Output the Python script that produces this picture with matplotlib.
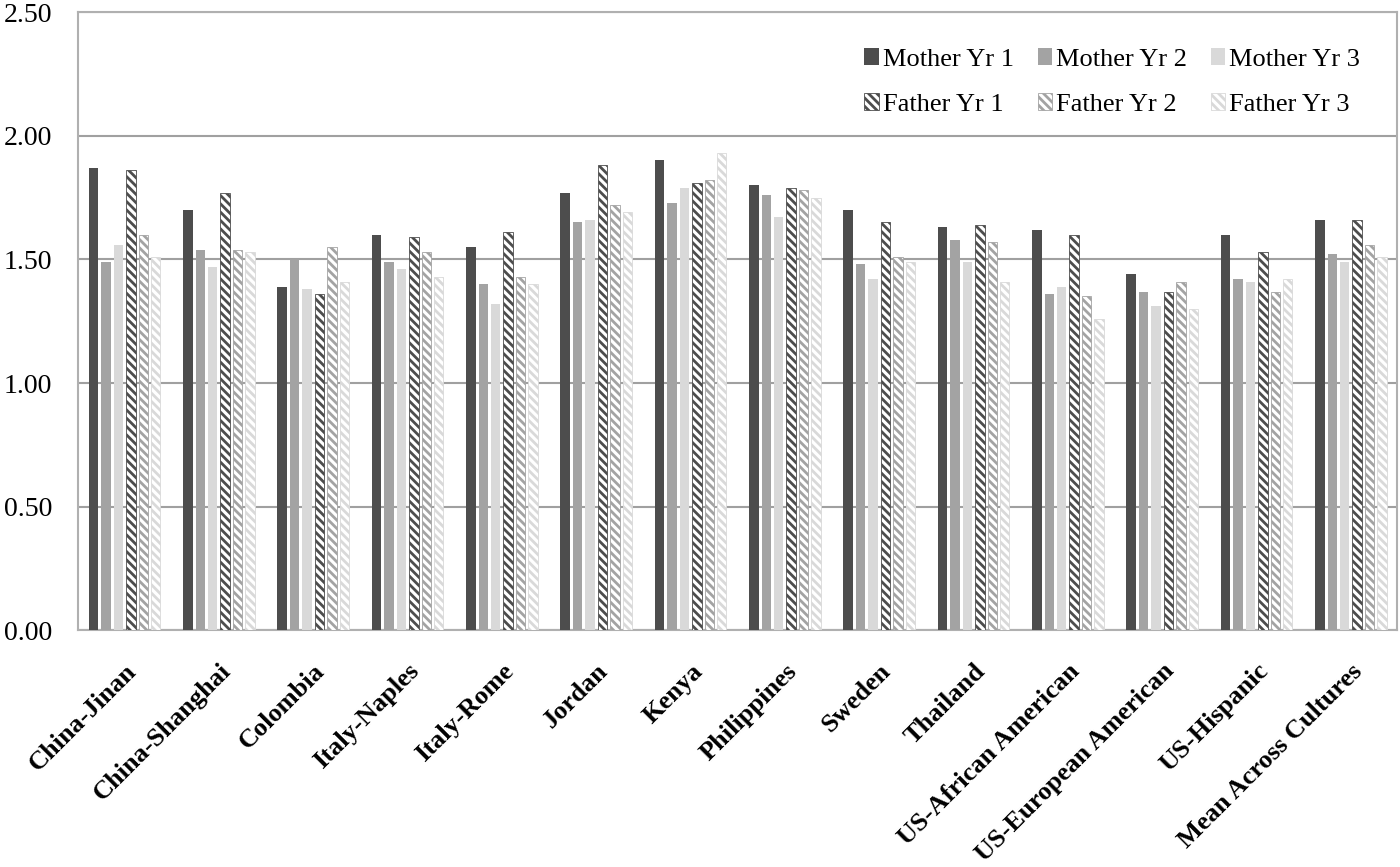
import numpy as np
import matplotlib.pyplot as plt

plt.rcParams['font.family'] = ['Liberation Serif', 'DejaVu Serif']
plt.rcParams['hatch.linewidth'] = 2.0

# Data
cultures = ['China-Jinan', 'China-Shanghai', 'Colombia', 'Italy-Naples', 'Italy-Rome',
            'Jordan', 'Kenya', 'Philippines', 'Sweden', 'Thailand',
            'US-African American', 'US-European American', 'US-Hispanic',
            'Mean Across Cultures']

mother_yr1 = [1.87, 1.70, 1.39, 1.60, 1.55, 1.77, 1.90, 1.80, 1.70, 1.63, 1.62, 1.44, 1.60, 1.66]
mother_yr2 = [1.49, 1.54, 1.50, 1.49, 1.40, 1.65, 1.73, 1.76, 1.48, 1.58, 1.36, 1.37, 1.42, 1.52]
mother_yr3 = [1.56, 1.47, 1.38, 1.46, 1.32, 1.66, 1.79, 1.67, 1.42, 1.49, 1.39, 1.31, 1.41, 1.49]
father_yr1 = [1.86, 1.77, 1.36, 1.59, 1.61, 1.88, 1.81, 1.79, 1.65, 1.64, 1.60, 1.37, 1.53, 1.66]
father_yr2 = [1.60, 1.54, 1.55, 1.53, 1.43, 1.72, 1.82, 1.78, 1.51, 1.57, 1.35, 1.41, 1.37, 1.56]
father_yr3 = [1.51, 1.53, 1.41, 1.43, 1.40, 1.69, 1.93, 1.75, 1.49, 1.41, 1.26, 1.30, 1.42, 1.51]

series = [
    ('Mother Yr 1', mother_yr1, '#4d4d4d', False),
    ('Mother Yr 2', mother_yr2, '#a3a3a3', False),
    ('Mother Yr 3', mother_yr3, '#d9d9d9', False),
    ('Father Yr 1', father_yr1, '#4d4d4d', True),
    ('Father Yr 2', father_yr2, '#a3a3a3', True),
    ('Father Yr 3', father_yr3, '#d9d9d9', True),
]

fig = plt.figure(figsize=(14, 8.67), dpi=100)
ax = fig.add_axes([0.056, 0.273, 0.942, 0.713])

x = np.arange(len(cultures))
pitch = 0.132
width = 0.10
bars = []
for i, (name, vals, col, hatched) in enumerate(series):
    pos = x + (i - 2.5) * pitch
    if hatched:
        b = ax.bar(pos, vals, width, facecolor='white', edgecolor=col,
                   hatch='\\\\\\\\', linewidth=0.6, label=name, zorder=3)
    else:
        b = ax.bar(pos, vals, width, color=col, label=name, zorder=3)
    bars.append(b)

ax.set_ylim(0, 2.5)
ax.set_xlim(-0.49, len(cultures) - 0.51)
ax.set_yticks(np.arange(0, 2.51, 0.5))
ax.set_yticklabels(['%.2f' % v for v in np.arange(0, 2.51, 0.5)], fontsize=20)
ax.yaxis.grid(True, color='#a0a0a0', linewidth=1.5, zorder=0)
ax.set_axisbelow(True)

ax.set_xticks(x)
ax.set_xticklabels(cultures, rotation=45, ha='right', rotation_mode='anchor',
                   fontsize=19, fontweight='bold')
ax.tick_params(axis='x', length=0, pad=21)
ax.tick_params(axis='y', length=0, pad=19)

for s in ax.spines.values():
    s.set_color('#b0b0b0')
    s.set_linewidth(1.5)

# legend filled row by row: Mother on top, Father below
order = [0, 3, 1, 4, 2, 5]
ax.legend([bars[k] for k in order], [series[k][0] for k in order],
          ncol=3, loc='upper right', bbox_to_anchor=(0.984, 0.967), frameon=False,
          fontsize=19, handlelength=0.55, handleheight=0.6, handletextpad=0.15,
          columnspacing=0.9, labelspacing=0.85, borderaxespad=0.2)

fig.savefig('out.png', dpi=100)
